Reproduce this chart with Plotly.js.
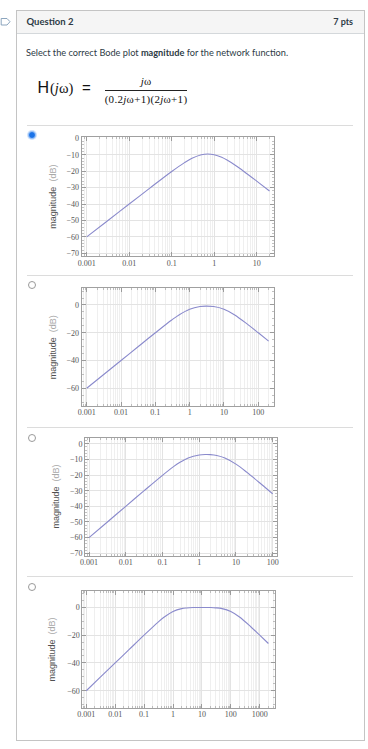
<!DOCTYPE html>
<html>
<head>
<meta charset="utf-8">
<script src="https://cdn.plot.ly/plotly-3.0.1.min.js"></script>
<style>
  html, body { margin:0; padding:0; background:#fff; width:368px; height:749px; overflow:hidden; }
  .abs { position:absolute; white-space:nowrap; }
  #box { position:absolute; left:15.5px; top:10px; width:347px; height:729px; border:1px solid #c4c4c4; }
  #hdr { position:absolute; left:16.5px; top:11px; width:347px; height:22px; background:#f5f5f5; border-bottom:1px solid #d4d8db; }
  .sep { position:absolute; left:26.5px; width:326px; height:0; border-top:1px solid #dcdcdc; }
  .radio { position:absolute; width:6px; height:6px; border-radius:50%; border:1px solid #9a9a9a; background:#fff; }
  .radio.on { border:1px solid #9cc3f7; background:#1a73e8; width:6px; height:6px; box-shadow:0 0 0 1px #cfe2fb; }
  #plot { position:absolute; left:0; top:0; width:368px; height:749px; }
</style>
</head>
<body>
<svg class="abs" style="left:0;top:15px" width="14" height="14">
  <path d="M1.2,3.5 H7 L10,6.7 L7,10 H1.2 Z" fill="none" stroke="#7f9bb7" stroke-width="0.9"/>
</svg>
<div id="box"></div>
<div id="hdr"></div>
<div class="abs" style="left:26.5px;top:15.5px;line-height:12px;font-family:Lato,'Noto Sans',sans-serif;font-weight:700;font-size:9.5px;color:#2d3b45;">Question 2</div>
<div class="abs" style="right:15px;top:15.5px;line-height:12px;font-family:Lato,'Noto Sans',sans-serif;font-weight:700;font-size:9px;color:#2d3b45;">7 pts</div>
<div class="abs" style="left:26px;top:47px;line-height:12px;font-family:Lato,'Noto Sans',sans-serif;font-size:9.2px;color:#2d3b45;">Select the correct Bode plot <b>magnitude</b> for the network function.</div>

<!-- formula -->
<div class="abs" style="left:37.5px;top:79px;line-height:18px;font-family:'Liberation Sans',Arial,sans-serif;font-size:16px;color:#111;">H</div>
<div class="abs" style="left:50px;top:80px;line-height:17px;font-family:'Liberation Serif',serif;font-size:14.5px;color:#111;">(<i>j</i>ω)</div>
<div class="abs" style="left:82px;top:79px;line-height:18px;font-family:'Liberation Sans',Arial,sans-serif;font-size:15px;color:#111;">=</div>
<div class="abs" style="left:105px;width:82px;top:75px;line-height:13px;text-align:center;font-family:'Liberation Serif',serif;font-size:11px;color:#111;"><i>j</i>ω</div>
<div class="abs" style="left:105px;width:82px;top:89.5px;height:0;border-top:0.9px solid #222;"></div>
<div class="abs" style="left:104px;width:84px;top:92.5px;line-height:13px;text-align:center;font-family:'Liberation Serif',serif;font-size:11px;color:#111;letter-spacing:0.3px;">(0.2<i>j</i>ω+1)(2<i>j</i>ω+1)</div>

<div class="sep" style="top:124.5px"></div>
<div class="sep" style="top:274.5px"></div>
<div class="sep" style="top:426.8px"></div>
<div class="sep" style="top:576px"></div>

<div class="radio on" style="left:27.7px;top:131px"></div>
<div class="radio" style="left:28.3px;top:281px"></div>
<div class="radio" style="left:28.3px;top:433.5px"></div>
<div class="radio" style="left:28.3px;top:582.7px"></div>

<div id="plot"></div>

<script>
// ---- data ----
const freq1 = [0.001, 0.003, 0.01, 0.03, 0.1, 0.2, 0.3, 0.5, 0.7, 1, 1.5, 2, 3, 5, 10, 20];
const mag1  = [-60, -50.46, -40.0, -30.48, -20.21, -14.8, -12.17, -10.0, -9.54, -10.0, -11.6, -13.27, -16.14, -20.21, -26.07, -32.05];

const freq2 = [0.001, 0.003, 0.01, 0.03, 0.1, 0.3, 0.5, 1, 2, 3, 5, 10, 20, 50, 100, 200];
const mag2  = [-60, -50.46, -40.0, -30.46, -20.04, -10.84, -7.0, -3.05, -1.14, -0.83, -1.14, -3.05, -7.0, -14.15, -20.04, -26.03];

const freq3 = [0.001, 0.003, 0.01, 0.03, 0.1, 0.2, 0.3, 0.5, 1, 1.5, 2, 3, 5, 10, 20, 50, 100];
const mag3  = [-60, -50.46, -40.0, -30.47, -20.17, -14.63, -11.81, -9.07, -7.16, -6.85, -6.93, -7.47, -9.07, -13.02, -18.32, -26.06, -32.05];

const freq4 = [0.001, 0.003, 0.01, 0.03, 0.1, 0.3, 0.5, 1, 2, 3, 5, 10, 20, 30, 50, 100, 200, 500, 1000, 2000];
const mag4  = [-60, -50.46, -40.0, -30.46, -20.04, -10.83, -6.99, -3.01, -0.97, -0.46, -0.18, -0.09, -0.18, -0.38, -0.97, -3.01, -6.99, -14.15, -20.04, -26.03];

const xTicks1 = [0.001, 0.01, 0.1, 1, 10];
const xTicks2 = [0.001, 0.01, 0.1, 1, 10, 100];
const xTicks3 = [0.001, 0.01, 0.1, 1, 10, 100];
const xTicks4 = [0.001, 0.01, 0.1, 1, 10, 100, 1000];
const xLabels1 = ['0.001', '0.01', '0.1', '1', '10'];
const xLabels2 = ['0.001', '0.01', '0.1', '1', '10', '100'];
const xLabels3 = ['0.001', '0.01', '0.1', '1', '10', '100'];
const xLabels4 = ['0.001', '0.01', '0.1', '1', '10', '100', '1000'];
const yStep = [10, 20, 10, 20];
const yTitle = 'magnitude';
const yUnit = '(dB)';

// ---- layout geometry (pixels on the page) ----
const W = 368, H = 749;
const frames = [
  {l: 81.7, r: 273.5, t: 137.3, b: 256.0, xr: [-3.118, 1.395], yr: [-71.6, 0.6], tx: 53.0},
  {l: 81.7, r: 274.3, t: 288.3, b: 405.5, xr: [-3.146, 2.466], yr: [-72.4, 12.0], tx: 53.3},
  {l: 85.0, r: 276.7, t: 437.8, b: 555.7, xr: [-3.109, 2.109], yr: [-71.54, 3.8], tx: 55.7},
  {l: 82.3, r: 275.0, t: 590.7, b: 707.7, xr: [-3.138, 3.529], yr: [-72.2, 11.94], tx: 52.3}
];
const freqs = [freq1, freq2, freq3, freq4];
const mags = [mag1, mag2, mag3, mag4];
const xt = [xTicks1, xTicks2, xTicks3, xTicks4];
const xl = [xLabels1, xLabels2, xLabels3, xLabels4];

function minorVals(r) {
  const out = [];
  for (let e = Math.floor(r[0]); e <= Math.ceil(r[1]); e++) {
    for (let k = 2; k <= 9; k++) out.push(k * Math.pow(10, e));
  }
  return out;
}

const tickFont = {family: "'Liberation Serif', 'DejaVu Serif', serif", size: 8, color: '#555'};
const gridC = '#e3e3e3';
const minorGridC = '#efefef';
const frameC = '#a0a0a0';

const data = [];
const layout = {
  width: W, height: H,
  margin: {l: 0, r: 0, t: 0, b: 0, pad: 0},
  paper_bgcolor: 'rgba(0,0,0,0)',
  plot_bgcolor: 'rgba(0,0,0,0)',
  showlegend: false,
  annotations: []
};

frames.forEach((f, i) => {
  const n = i === 0 ? '' : String(i + 1);
  data.push({
    x: freqs[i], y: mags[i], type: 'scatter', mode: 'lines',
    line: {color: '#8a8acc', width: 1.1, shape: 'spline', smoothing: 1},
    xaxis: 'x' + n, yaxis: 'y' + n, hoverinfo: 'skip'
  });
  layout['xaxis' + n] = {
    type: 'log', range: f.xr, domain: [f.l / W, f.r / W], anchor: 'y' + n,
    tickmode: 'array', tickvals: xt[i], ticktext: xl[i],
    ticks: 'inside', ticklen: 4, tickcolor: '#888', tickwidth: 0.8,
    showline: true, linecolor: frameC, linewidth: 1, mirror: 'allticks',
    showgrid: true, gridcolor: gridC, gridwidth: 1, zeroline: false,
    minor: {tickmode: 'array', tickvals: minorVals(f.xr), ticks: 'inside', ticklen: 2,
            tickcolor: '#999', tickwidth: 0.6, showgrid: true, gridcolor: minorGridC, gridwidth: 1},
    tickfont: tickFont, ticklabelstandoff: -1, fixedrange: true
  };
  layout['yaxis' + n] = {
    range: f.yr, domain: [1 - f.b / H, 1 - f.t / H], anchor: 'x' + n,
    tickmode: 'linear', tick0: 0, dtick: yStep[i],
    ticks: 'inside', ticklen: 4, tickcolor: '#888', tickwidth: 0.8,
    showline: true, linecolor: frameC, linewidth: 1, mirror: 'allticks',
    showgrid: true, gridcolor: gridC, gridwidth: 1, zeroline: false,
    minor: {dtick: yStep[i] === 10 ? 2 : 5, tick0: 0, ticks: 'inside', ticklen: 2, tickcolor: '#999', tickwidth: 0.6, showgrid: false},
    tickfont: tickFont, fixedrange: true
  };
  layout.annotations.push({
    xref: 'paper', yref: 'paper', x: f.tx / W, y: 1 - ((f.t + f.b) / 2) / H,
    xanchor: 'center', yanchor: 'middle', showarrow: false, textangle: -90,
    text: yTitle + '&nbsp;&nbsp;<span style="color:#a8a8a8">' + yUnit + '</span>',
    font: {family: "'Liberation Sans', Arial, sans-serif", size: 9, color: '#505050'}
  });
});

Plotly.newPlot('plot', data, layout, {staticPlot: true, displayModeBar: false});
</script>
</body>
</html>
